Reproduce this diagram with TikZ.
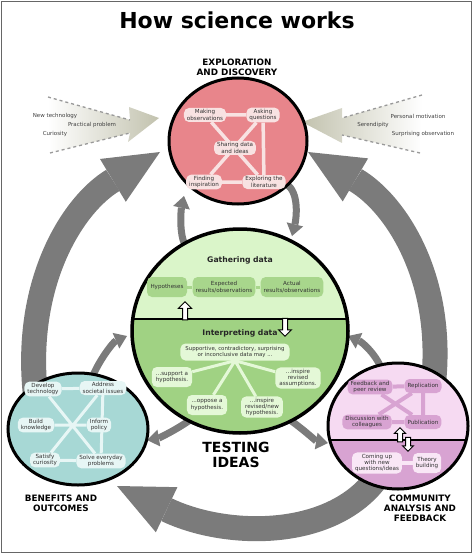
\documentclass[tikz,border=0pt]{standalone}
\usepackage{fontspec}
\setmainfont{DejaVu Sans}
\usetikzlibrary{arrows.meta,shapes.arrows}

% colours
\definecolor{loopgray}{HTML}{7B7B7B}
\definecolor{conegray}{HTML}{C2C2AE}
\definecolor{explofill}{HTML}{E8858B}
\definecolor{explobox}{HTML}{F8E2E2}
\definecolor{gathfill}{HTML}{DAF5C9}
\definecolor{gathbox}{HTML}{A8D68C}
\definecolor{interfill}{HTML}{A0D283}
\definecolor{interbox}{HTML}{E4F8D7}
\definecolor{benefill}{HTML}{A7D8D5}
\definecolor{benebox}{HTML}{E7F6F5}
\definecolor{commfill}{HTML}{F6DAF2}
\definecolor{commbox}{HTML}{D8A3D2}
\definecolor{theofill}{HTML}{D8A3D2}
\definecolor{theobox}{HTML}{F9E7F6}

\pgfdeclarelayer{back}
\pgfdeclarelayer{links}
\pgfsetlayers{back,links,main}

\tikzset{
  bubble/.style={rounded corners=5pt, inner xsep=3pt, inner ysep=1.5pt, align=center,
    minimum height=14pt, text=black!80, font=\fontsize{5.6}{6.3}\selectfont},
  heading/.style={align=center, font=\bfseries\fontsize{8.8}{10}\selectfont},
  subhead/.style={text=black!85, font=\bfseries\fontsize{7.7}{8}\selectfont},
  cue/.style={text=black!75, font=\fontsize{5.5}{6}\selectfont},
  bigarc/.style={loopgray, line width=25pt, -{Triangle[length=55pt,width=50pt,line width=0pt]}},
  hoparc/.style={loopgray, line width=7pt, -{Triangle[length=12pt,width=17pt,line width=0pt]}},
  hollow/.style={single arrow, draw=black, fill=white, line width=1pt, inner sep=2pt,
    single arrow head extend=4pt, minimum height=18pt},
  conedash/.style={black!40, dash pattern=on 3pt off 3pt, line width=1.3pt},
}

\begin{document}
\begin{tikzpicture}[x=1pt,y=-1pt]
\useasboundingbox (0,0) rectangle (474,556);
% frame
\draw[black!60, line width=1.5pt] (1.5,1.5) rectangle (471.5,552.5);

% title
\node[font=\bfseries\fontsize{22}{24}\selectfont] (title) at (237,20) {How science works};

% ends of the arrows between stages
\coordinate (bnTop) at (36,400);
\coordinate (exLeft) at (160,152);
\coordinate (cmTop) at (432,395);
\coordinate (exRight) at (308,152);
\coordinate (cmLow) at (385,465);
\coordinate (bnLow) at (117,486);
\coordinate (exOut) at (286,184);
\coordinate (tiTop) at (292,236);
\coordinate (tiUp) at (185,245);
\coordinate (exIn) at (184,196);
\coordinate (bnOut) at (92,378);
\coordinate (tiLeft) at (127,336);
\coordinate (cmOut) at (382,370);
\coordinate (tiRight) at (348,336);
\coordinate (tiLowL) at (190,420);
\coordinate (bnIn) at (147,440);
\coordinate (tiLowR) at (290,420);
\coordinate (cmIn) at (328,443);

\begin{pgfonlayer}{back}
  % Draw big loop arrows
  \draw[bigarc] (bnTop) .. controls (22,285) and (72,205) .. (exLeft);
  \draw[bigarc] (cmTop) .. controls (448,285) and (398,205) .. (exRight);
  \draw[bigarc] (cmLow) .. controls (345,540) and (230,540) .. (bnLow);

  % Draw small arrows
  \draw[hoparc] (exOut) .. controls +(14,8) and +(4,-16) .. (tiTop);
  \draw[hoparc] (tiUp) .. controls +(-6,-12) and +(-3,14) .. (exIn);
  \draw[hoparc] (bnOut) .. controls +(6,-16) and +(-14,6) .. (tiLeft);
  \draw[hoparc] (cmOut) .. controls +(-6,-16) and +(14,6) .. (tiRight);
  \draw[hoparc] (tiLowL) .. controls +(-14,10) and +(12,-2) .. (bnIn);
  \draw[hoparc] (tiLowR) .. controls +(14,10) and +(-12,-2) .. (cmIn);

  % Draw cones of motivations
  \shade[left color=white, right color=conegray]
    (48,97) -- (130,120) -- (129,107) -- (159,118) -- (128,142) -- (130,133) -- (50,153) -- cycle;
  \draw[conedash] (48,97) -- (130,120);
  \draw[conedash] (50,153) -- (130,133);
  \shade[left color=conegray, right color=white]
    (422,95) -- (342,118) -- (342,108) -- (302,122) -- (342,143) -- (342,135) -- (420,153) -- cycle;
  \draw[conedash] (422,95) -- (342,118);
  \draw[conedash] (420,153) -- (342,135);

  % Draw stages
  \filldraw[fill=explofill, line width=3pt] (238,141) ellipse [x radius=69pt, y radius=63pt];

  \fill[gathfill] (240,331) ellipse [x radius=108pt, y radius=102pt];
  \begin{scope}
    \clip (240,331) ellipse [x radius=108pt, y radius=102pt];
    \fill[interfill] (120,319) rectangle (360,440);
    \draw[line width=1.3pt] (120,319) -- (360,319);
  \end{scope}
  \draw[line width=3.5pt] (240,331) ellipse [x radius=108pt, y radius=102pt];

  \filldraw[fill=benefill, line width=3pt] (78,429) ellipse [x radius=70pt, y radius=56pt];

  \fill[commfill] (398,426) ellipse [x radius=70pt, y radius=63pt];
  \begin{scope}
    \clip (398,426) ellipse [x radius=70pt, y radius=63pt];
    \fill[theofill] (320,440) rectangle (480,500);
    \draw[line width=1.2pt] (320,440) -- (480,440);
  \end{scope}
  \draw[line width=3pt] (398,426) ellipse [x radius=70pt, y radius=63pt];
\end{pgfonlayer}

% cue texts
\node[cue] (newtech) at (55,116) {New technology};
\node[cue] (practical) at (92,125) {Practical problem};
\node[cue] (curio) at (55,134) {Curiosity};
\node[cue] (persmot) at (418,116) {Personal motivation};
\node[cue] (seren) at (373,125) {Serendipity};
\node[cue] (surpobs) at (423,134) {Surprising observation};

% stage headings
\node[heading] (exploT) at (237,67) {EXPLORATION\\AND DISCOVERY};
\node[align=center, font=\bfseries\fontsize{14}{14.5}\selectfont] (testT) at (236,455) {TESTING\\IDEAS};
\node[heading] (beneT) at (61,503) {BENEFITS AND\\OUTCOMES};
\node[heading] (commT) at (420,508) {COMMUNITY\\ANALYSIS AND\\FEEDBACK};

% exploration and discovery
\node[bubble, fill=explobox] (mkobs) at (205,115) {Making\\observations};
\node[bubble, fill=explobox] (askq) at (263,115) {Asking\\questions};
\node[bubble, fill=explobox] (share) at (235,148) {Sharing data\\and ideas};
\node[bubble, fill=explobox] (findi) at (204,182) {Finding\\inspiration};
\node[bubble, fill=explobox] (explit) at (264,182) {Exploring the\\literature};
\begin{pgfonlayer}{links}
  \draw[explobox, line width=3.5pt] (mkobs) -- (askq) -- (explit) -- (findi) -- cycle;
  \draw[explobox, line width=3.5pt] (mkobs) -- (explit) (askq) -- (findi);
\end{pgfonlayer}

% testing ideas: gathering data
\node[subhead] (gath) at (240,260) {Gathering data};
\node[bubble, fill=gathbox, minimum height=20pt, minimum width=40pt] (hypo) at (167,287) {Hypotheses};
\node[bubble, fill=gathbox, minimum height=20pt] (expres) at (224,287) {Expected\\results/observations};
\node[bubble, fill=gathbox, minimum height=20pt] (actres) at (292,287) {Actual\\results/observations};
\begin{pgfonlayer}{links}
  \draw[gathbox, line width=3pt] (hypo) -- (expres) -- (actres);
\end{pgfonlayer}
\node[hollow, rotate=90] (upgath) at (185,312) {};
\node[hollow, rotate=-90] (downint) at (285,326) {};

% testing ideas: interpreting data
\node[subhead] (inter) at (240,333) {Interpreting data};
\node[bubble, fill=interbox, minimum height=17pt, inner xsep=5pt, font=\fontsize{5.4}{6.1}\selectfont] (datamay) at (235,352) {Supportive, contradictory, surprising\\or inconclusive data may ...};
\node[bubble, fill=interbox, minimum height=20pt, inner xsep=4pt] (supp) at (172,377) {...support a\\hypothesis.};
\node[bubble, fill=interbox, minimum height=20pt, inner xsep=4pt] (revas) at (298,378) {...inspire\\revised\\assumptions.};
\node[bubble, fill=interbox, minimum height=20pt, inner xsep=4pt] (oppo) at (207,405) {...oppose a\\hypothesis.};
\node[bubble, fill=interbox, minimum height=20pt, inner xsep=4pt] (revnew) at (262,407) {...inspire\\revised/new\\hypothesis.};
\begin{pgfonlayer}{links}
  \draw[interbox, line width=3pt] (datamay.south) -- (supp) (datamay.south) -- (revas)
    (datamay.south) -- (oppo) (datamay.south) -- (revnew);
\end{pgfonlayer}

% benefits and outcomes
\node[bubble, fill=benebox] (devtech) at (43,389) {Develop\\technology};
\node[bubble, fill=benebox] (societal) at (103,388) {Address\\societal issues};
\node[bubble, fill=benebox] (buildk) at (36,425) {Build\\knowledge};
\node[bubble, fill=benebox] (policy) at (99,425) {Inform\\policy};
\node[bubble, fill=benebox] (curious) at (45,460) {Satisfy\\curiosity};
\node[bubble, fill=benebox] (everyday) at (101,461) {Solve everyday\\problems};
\begin{pgfonlayer}{links}
  \draw[benebox, line width=3pt] (devtech) -- (societal) -- (everyday) -- (curious) -- cycle;
  \draw[benebox, line width=3pt] (devtech) -- (everyday) (societal) -- (curious) (buildk) -- (policy);
\end{pgfonlayer}

% community analysis and feedback
\node[bubble, fill=commbox] (peerrev) at (370,387) {Feedback and\\peer review};
\node[bubble, fill=commbox] (replic) at (423,386) {Replication};
\node[bubble, fill=commbox] (discuss) at (367,422) {Discussion with\\colleagues};
\node[bubble, fill=commbox] (publ) at (423,422) {Publication};
\begin{pgfonlayer}{links}
  \draw[commbox, line width=4pt] (peerrev) -- (replic) -- (publ) -- (discuss) -- cycle;
  \draw[commbox, line width=4pt] (peerrev) -- (publ) (replic) -- (discuss);
\end{pgfonlayer}
\node[hollow, rotate=90, minimum height=14pt, single arrow head extend=3pt] (upcomm) at (400,436) {};
\node[hollow, rotate=-90, minimum height=14pt, single arrow head extend=3pt] (downcomm) at (408,443) {};
\node[bubble, fill=theobox, minimum height=20pt] (newq) at (377,463) {Coming up\\with new\\questions/ideas};
\node[bubble, fill=theobox, minimum height=20pt] (theory) at (427,463) {Theory\\building};
\begin{pgfonlayer}{links}
  \draw[theobox, line width=4pt] (newq) -- (theory);
\end{pgfonlayer}
\end{tikzpicture}
\end{document}
